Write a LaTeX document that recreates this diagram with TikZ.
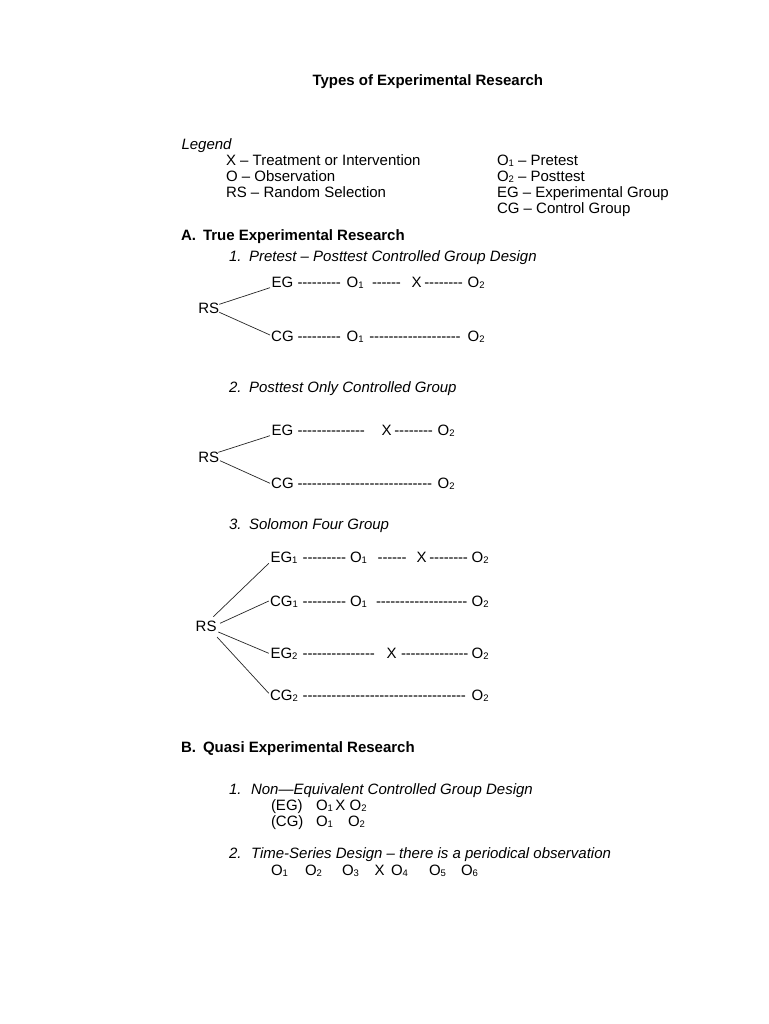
\documentclass[tikz,border=0pt]{standalone}
\usepackage{fontspec}
\setmainfont{Liberation Sans}
\newcommand\fs{\fontsize{15}{16}\selectfont}
\newcommand\sbs[1]{\raisebox{-1pt}{\fontsize{9.5}{9.5}\selectfont #1}}
\newcommand\hyph[1]{\foreach \i in {1,...,#1}{-\kern-0.2pt}}
\begin{document}
\begin{tikzpicture}[x=1pt,y=-1pt,
  every node/.style={inner sep=0pt, outer sep=0pt, anchor=base west, font=\fs, text=black},
  bt/.style={font=\fs\bfseries},
  it/.style={font=\fs\itshape},
  conn/.style={draw=black!85, line width=0.7pt}]
\useasboundingbox[fill=white] (0,0) rectangle (768,1024);

% title
\node[bt] (title) at (312.5,85.4) {Types of Experimental Research};

% legend
\node[it] (leg) at (181.5,150) {Legend};
\node (lx) at (226,165.5) {X – Treatment or Intervention};
\node (lo) at (226,181.5) {O – Observation};
\node (lrs) at (226,197.5) {RS – Random Selection};
\node (lo1) at (497,165.5) {O\sbs{1} – Pretest};
\node (lo2) at (497,181.5) {O\sbs{2} – Posttest};
\node (lleg) at (497,197.5) {EG – Experimental Group};
\node (lcg) at (497,213.5) {CG – Control Group};

% section A
\node[bt] (ha) at (181,240.5) {A.};
\node[bt] (hat) at (203,240.5) {True Experimental Research};
\node[it] (a1n) at (229,261.5) {1.};
\node[it] (a1t) at (249,261.5) {Pretest – Posttest Controlled Group Design};

% diagram 1
\node (d1rs) at (198.3,313.7) {RS};
\node (d1eg) at (271.7,287.7) {EG};
\node (d1egh1) at (297.6,287.7) {\hyph{9}};
\node (d1ego1) at (346.7,287.7) {O\sbs{1}};
\node (d1egh2) at (372,287.7) {\hyph{6}};
\node (d1egx) at (411.5,287.7) {X};
\node (d1egh3) at (424.4,287.7) {\hyph{8}};
\node (d1ego2) at (467.6,287.7) {O\sbs{2}};
\node (d1cg) at (271.2,341) {CG};
\node (d1cgh1) at (297.6,341) {\hyph{9}};
\node (d1cgo1) at (346.7,341) {O\sbs{1}};
\node (d1cgh2) at (369.4,341) {\hyph{19}};
\node (d1cgo2) at (467.6,341) {O\sbs{2}};
\draw[conn] ([shift={(0.2,-9.4)}]d1rs.base east) -- ([shift={(-1.7,0)}]d1eg.base west);
\draw[conn] ([shift={(0.2,-1.4)}]d1rs.base east) -- ([shift={(-1.2,-6)}]d1cg.base west);

% item 2
\node[it] (a2n) at (229,392.5) {2.};
\node[it] (a2t) at (249,392.5) {Posttest Only Controlled Group};

% diagram 2
\node (d2rs) at (198.3,462) {RS};
\node (d2eg) at (271.7,435.4) {EG};
\node (d2egh1) at (297.6,435.4) {\hyph{14}};
\node (d2egx) at (381.5,435.4) {X};
\node (d2egh2) at (394.4,435.4) {\hyph{8}};
\node (d2ego2) at (437.6,435.4) {O\sbs{2}};
\node (d2cg) at (271.2,488.7) {CG};
\node (d2cgh1) at (297.6,488.7) {\hyph{28}};
\node (d2cgo2) at (437.6,488.7) {O\sbs{2}};
\draw[conn] ([shift={(-0.8,-9.7)}]d2rs.base east) -- ([shift={(-1.7,0.3)}]d2eg.base west);
\draw[conn] ([shift={(0.9,-1.3)}]d2rs.base east) -- ([shift={(-1.2,-5.4)}]d2cg.base west);

% item 3
\node[it] (a3n) at (229,529.5) {3.};
\node[it] (a3t) at (249,529.5) {Solomon Four Group};

% diagram 3
\node (d3rs) at (195.7,631.4) {RS};
\node (d3eg1) at (270.5,562) {EG\sbs{1}};
\node (d3eg1h1) at (302.7,562) {\hyph{9}};
\node (d3eg1o1) at (350,562) {O\sbs{1}};
\node (d3eg1h2) at (377.7,562) {\hyph{6}};
\node (d3eg1x) at (416.5,562) {X};
\node (d3eg1h3) at (429.4,562) {\hyph{8}};
\node (d3eg1o2) at (471.7,562) {O\sbs{2}};
\node (d3cg1) at (270,606.4) {CG\sbs{1}};
\node (d3cg1h1) at (302.7,606.4) {\hyph{9}};
\node (d3cg1o1) at (350,606.4) {O\sbs{1}};
\node (d3cg1h2) at (376,606.4) {\hyph{19}};
\node (d3cg1o2) at (471.7,606.4) {O\sbs{2}};
\node (d3eg2) at (270.5,658.7) {EG\sbs{2}};
\node (d3eg2h1) at (302.7,658.7) {\hyph{15}};
\node (d3eg2x) at (386.5,658.7) {X};
\node (d3eg2h2) at (401,658.7) {\hyph{14}};
\node (d3eg2o2) at (471.7,658.7) {O\sbs{2}};
\node (d3cg2) at (270,700.4) {CG\sbs{2}};
\node (d3cg2h1) at (302.7,700.4) {\hyph{34}};
\node (d3cg2o2) at (471.7,700.4) {O\sbs{2}};
\draw[conn] ([shift={(-3.2,-14.7)}]d3rs.base east) -- ([shift={(-1.7,1.3)}]d3eg1.base west);
\draw[conn] ([shift={(3.5,-8.1)}]d3rs.base east) -- ([shift={(-1.2,-5.4)}]d3cg1.base west);
\draw[conn] ([shift={(1.8,0.6)}]d3rs.base east) -- ([shift={(-1.7,-5.4)}]d3eg2.base west);
\draw[conn] ([shift={(0.5,5.6)}]d3rs.base east) -- ([shift={(-1.2,-7.1)}]d3cg2.base west);

% section B
\node[bt] (hb) at (181,752.5) {B.};
\node[bt] (hbt) at (203,752.5) {Quasi Experimental Research};
\node[it] (b1n) at (229,794.5) {1.};
\node[it] (b1t) at (251,794.5) {Non—Equivalent Controlled Group Design};
\node (b1eg) at (271,810.5) {(EG)};
\node (b1egs) at (316,810.5) {O\sbs{1}\,X O\sbs{2}};
\node (b1cg) at (271,826.5) {(CG)};
\node (b1cgo1) at (316,826.5) {O\sbs{1}};
\node (b1cgo2) at (348,826.5) {O\sbs{2}};
\node[it] (b2n) at (229,858.5) {2.};
\node[it] (b2t) at (251,858.5) {Time-Series Design – there is a periodical observation};
\node (b2o1) at (271,875.5) {O\sbs{1}};
\node (b2o2) at (305,875.5) {O\sbs{2}};
\node (b2o3) at (342,875.5) {O\sbs{3}};
\node (b2x) at (374.5,875.5) {X};
\node (b2o4) at (391,875.5) {O\sbs{4}};
\node (b2o5) at (429,875.5) {O\sbs{5}};
\node (b2o6) at (461,875.5) {O\sbs{6}};
\end{tikzpicture}
\end{document}
